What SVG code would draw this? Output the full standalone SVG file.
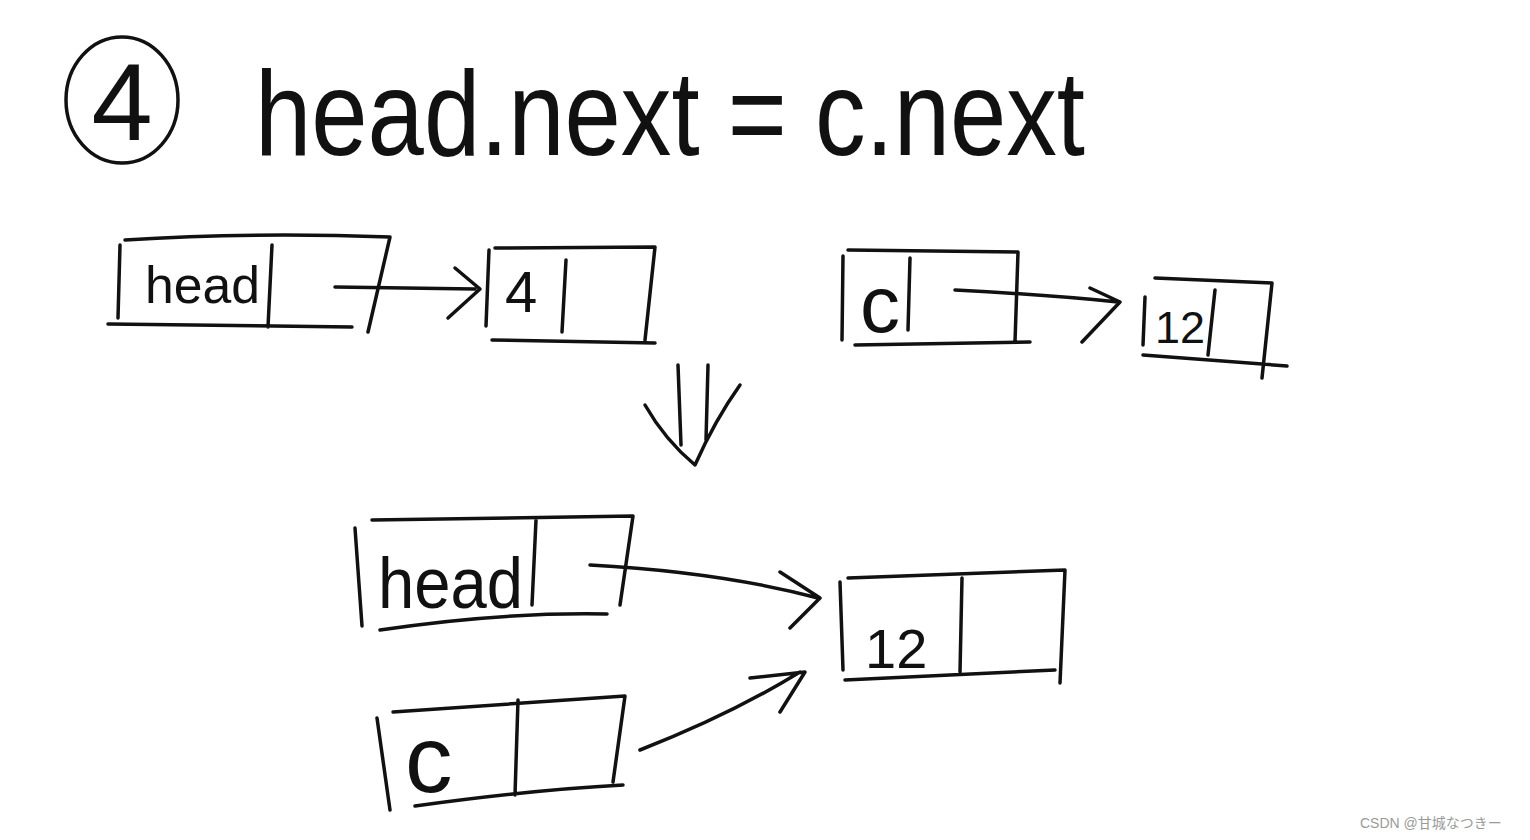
<svg xmlns="http://www.w3.org/2000/svg" width="1530" height="840" viewBox="0 0 1530 840">
<style>
.s{fill:none;stroke:#111;stroke-width:3.5;stroke-linecap:round;stroke-linejoin:round}
.t{font-family:"Liberation Sans",sans-serif;fill:#111}
</style>
<rect width="1530" height="840" fill="#fff"/>
<g id="title">
<ellipse class="s" cx="122" cy="100" rx="56" ry="63"/>
<text class="t" x="122" y="140" font-size="110" text-anchor="middle" font-weight="300">4</text>
<text class="t" x="255" y="155" font-size="120" font-weight="300" textLength="830" lengthAdjust="spacingAndGlyphs">head.next = c.next</text>
</g>
<g id="n-head1">
<path class="s" d="M120,245 L118,318 M125,240 Q250,232 390,237 L368,332 M108,324 Q230,326 352,327 M272,245 L268,327"/>
<text class="t" x="145" y="303" font-size="52" textLength="115" lengthAdjust="spacingAndGlyphs">head</text>
</g>
<g id="n-4">
<path class="s" d="M489,250 L486,326 M495,248 L655,247 L645,340 M492,340 L655,343 M566,260 L562,332"/>
<text class="t" x="505" y="312" font-size="58">4</text>
</g>
<g id="n-c1">
<path class="s" d="M843,256 L842,340 M848,250 L1018,252 L1015,342 M855,345 L1030,342 M910,258 L908,330"/>
<text class="t" x="860" y="332" font-size="80" font-weight="300">c</text>
</g>
<g id="n-12a">
<path class="s" d="M1145,297 L1143,345 M1155,278 L1272,283 L1262,378 M1143,355 L1287,366 M1215,290 L1208,355"/>
<text class="t" x="1155" y="343" font-size="44" textLength="50" lengthAdjust="spacingAndGlyphs">12</text>
</g>
<g id="n-head2">
<path class="s" d="M355,528 L362,626 M372,520 L633,516 L620,605 M380,630 Q500,612 607,614 M536,520 L532,605"/>
<text class="t" x="378" y="608" font-size="72" textLength="145" lengthAdjust="spacingAndGlyphs">head</text>
</g>
<g id="n-12b">
<path class="s" d="M840,582 L843,670 M848,578 L1065,570 L1060,683 M845,680 L1055,670 M962,578 L960,672"/>
<text class="t" x="865" y="668" font-size="56">12</text>
</g>
<g id="n-c2">
<path class="s" d="M377,718 L390,810 M393,712 L625,696 L613,782 M415,806 Q530,790 623,785 M518,700 L515,795"/>
<text class="t" x="405" y="792" font-size="95" font-weight="300">c</text>
</g>
<g id="connectors">
<path class="s" d="M335,287 L475,289 M455,268 L480,289 L448,318"/>
<path class="s" d="M955,290 Q1050,295 1118,302 M1090,288 L1120,302 L1082,342"/>
<path class="s" d="M678,365 L681,445 M708,365 L706,440 M645,405 Q665,440 695,465 Q715,420 740,385"/>
<path class="s" d="M590,565 Q720,572 818,598 M780,572 L820,598 L790,628"/>
<path class="s" d="M640,750 Q730,715 800,672 M750,678 L805,672 L780,712"/>
</g>
<text x="1360" y="828" font-size="14" style="fill:#9a9a9a;font-family:'Liberation Sans','Noto Sans CJK JP',sans-serif">CSDN @甘城なつきー</text>
</svg>
